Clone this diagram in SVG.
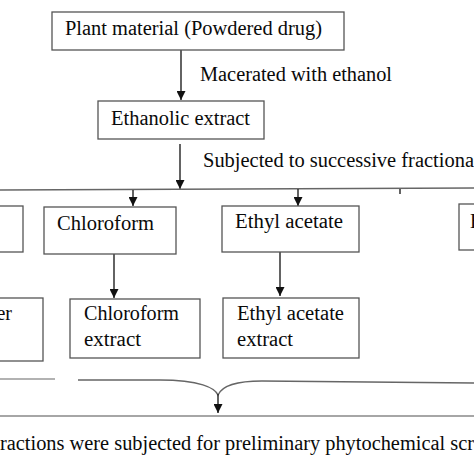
<svg xmlns="http://www.w3.org/2000/svg" width="474" height="474" viewBox="0 0 474 474">
<style>
.box{fill:#fff;stroke:#555;stroke-width:1.3}
.c{stroke:#222;stroke-width:1.4;fill:none}
.g{stroke:#666;stroke-width:1.4;fill:none}
text{font-family:'Liberation Serif','Times New Roman',serif;font-size:20px;fill:#0a0a0a}
</style>
<defs>
<marker id="ah" viewBox="0 0 10 10" refX="10" refY="5" markerWidth="9" markerHeight="9" markerUnits="userSpaceOnUse" orient="auto">
<path d="M0,0 L10,5 L0,10 z" fill="#111"/>
</marker>
</defs>
<rect width="474" height="474" fill="#fff"/>
<g id="connectors">
<line class="c" x1="181" y1="50" x2="181" y2="100" marker-end="url(#ah)"/>
<line class="c" x1="180" y1="144" x2="180" y2="189" marker-end="url(#ah)"/>
<line class="g" x1="0" y1="190" x2="474" y2="188"/>
<line class="c" x1="400" y1="189" x2="400" y2="194"/>
<line class="c" x1="133" y1="190" x2="133" y2="206" marker-end="url(#ah)"/>
<line class="c" x1="298" y1="189" x2="298" y2="206" marker-end="url(#ah)"/>
<line class="c" x1="114" y1="254" x2="114" y2="298" marker-end="url(#ah)"/>
<line class="c" x1="280" y1="252" x2="280" y2="296" marker-end="url(#ah)"/>
<path d="M0,379 L55,379" stroke="#999" stroke-width="1.3" fill="none"/>
<path class="g" d="M78,380 L160,380 C200,380 215,388 218,395 C221,388 232,381 262,381 L474,383"/>
<line class="c" x1="218" y1="394" x2="218" y2="413" marker-end="url(#ah)"/>
<line stroke="#888" stroke-width="1.6" x1="0" y1="416" x2="474" y2="416"/>
</g>
<g id="plant">
<rect class="box" x="52" y="12" width="292" height="38"/>
<text x="65" y="35" textLength="257" lengthAdjust="spacingAndGlyphs">Plant material (Powdered drug)</text>
</g>
<g id="macerated">
<text x="200" y="81" textLength="192" lengthAdjust="spacingAndGlyphs">Macerated with ethanol</text>
</g>
<g id="ethanolic">
<rect class="box" x="98" y="101" width="166" height="38"/>
<text x="111" y="125" textLength="139" lengthAdjust="spacingAndGlyphs">Ethanolic extract</text>
</g>
<g id="subjected">
<text x="203" y="167" textLength="271" lengthAdjust="spacingAndGlyphs">Subjected to successive fractiona</text>
</g>
<g id="leftbox">
<rect class="box" x="-10" y="206" width="33" height="46"/>
</g>
<g id="chloroform">
<rect class="box" x="44" y="207" width="132" height="47"/>
<text x="57" y="230" textLength="97" lengthAdjust="spacingAndGlyphs">Chloroform</text>
</g>
<g id="ethylacetate">
<rect class="box" x="222" y="206" width="137" height="46"/>
<text x="235" y="228" textLength="108" lengthAdjust="spacingAndGlyphs">Ethyl acetate</text>
</g>
<g id="rightbox">
<rect class="box" x="459" y="204" width="30" height="46"/>
<text x="470" y="228">E</text>
</g>
<g id="leftextract">
<rect class="box" x="-10" y="298" width="53" height="63"/>
<text x="12" y="320" text-anchor="end">er</text>
</g>
<g id="chloroformextract">
<rect class="box" x="70" y="299" width="130" height="59"/>
<text x="84" y="320" textLength="95" lengthAdjust="spacingAndGlyphs">Chloroform</text>
<text x="84" y="346" textLength="57" lengthAdjust="spacingAndGlyphs">extract</text>
</g>
<g id="ethylacetateextract">
<rect class="box" x="223" y="298" width="136" height="60"/>
<text x="237" y="320" textLength="107" lengthAdjust="spacingAndGlyphs">Ethyl acetate</text>
<text x="237" y="346" textLength="56" lengthAdjust="spacingAndGlyphs">extract</text>
</g>
<g id="fractions">
<text x="0" y="450" textLength="474" lengthAdjust="spacingAndGlyphs">ractions were subjected for preliminary phytochemical scr</text>
</g>
</svg>
